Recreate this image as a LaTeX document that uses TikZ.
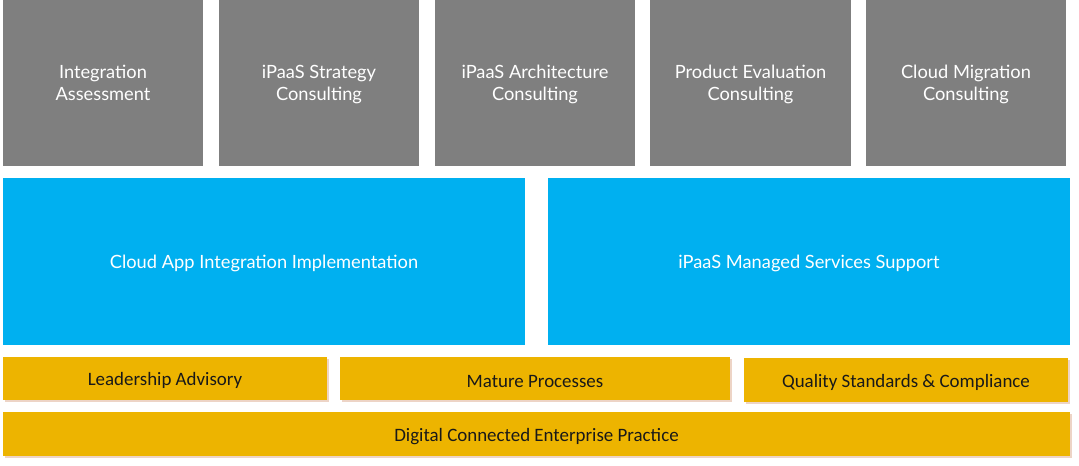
\documentclass[tikz,border=0pt]{standalone}
\usepackage{fontspec}
\setmainfont{Lato}
\newfontfamily\calib{Carlito}
\usetikzlibrary{shadows}
\definecolor{boxgray}{HTML}{7F7F7F}
\definecolor{boxblue}{HTML}{00B0F0}
\definecolor{boxgold}{HTML}{EDB400}
\definecolor{shadowc}{HTML}{E8C9B8}
\newcommand\twoline[2]{\raisebox{-1.6pt}[\height][\depth]{\begin{tabular}{@{}c@{}}#1\\#2\end{tabular}}}
\begin{document}
\begin{tikzpicture}[x=0.75pt,y=-0.75pt,
  box/.style={rectangle,inner sep=0pt,outer sep=0pt,anchor=north west},
  graybox/.style={box,fill=boxgray,text=white,font=\fontsize{13.7}{16.5}\selectfont,minimum width=200*0.75pt,minimum height=166*0.75pt},
  bluebox/.style={box,fill=boxblue,text=white,font=\fontsize{13.7}{16.5}\selectfont,minimum width=522*0.75pt,minimum height=167*0.75pt,
    execute at begin node={\rule{0pt}{13.5pt}}},
  goldbox/.style={box,fill=boxgold,text=black!90,font=\calib\fontsize{14.2}{16}\selectfont,minimum height=43*0.75pt,
    execute at begin node={\rule{0pt}{13.5pt}},
    drop shadow={shadow xshift=1.5pt,shadow yshift=-1.5pt,fill=shadowc,opacity=0.8}}]
\useasboundingbox (0,0) rectangle (1079,465);
\node[graybox] (g1) at (3,0) {\twoline{Integration}{Assessment}};
\node[graybox] (g2) at (219,0) {\twoline{iPaaS Strategy}{Consulting}};
\node[graybox] (g3) at (435,0) {\twoline{iPaaS Architecture}{Consulting}};
\node[graybox,minimum width=201*0.75pt] (g4) at (650,0) {\twoline{Product Evaluation}{Consulting}};
\node[graybox] (g5) at (866,0) {\twoline{Cloud Migration}{Consulting}};
\node[bluebox] (b1) at (3,178) {Cloud App Integration Implementation};
\node[bluebox] (b2) at (548,178) {iPaaS Managed Services Support};
\node[goldbox,minimum width=324*0.75pt] (l1) at (3,357) {Leadership Advisory};
\node[goldbox,minimum width=390*0.75pt] (l2) at (340,357) {Mature Processes};
\node[goldbox,minimum width=324*0.75pt,minimum height=44*0.75pt] (l3) at (744,358) {Quality Standards \& Compliance};
\node[goldbox,minimum width=1067*0.75pt,minimum height=44*0.75pt] (l4) at (3,412) {Digital Connected Enterprise Practice};
\end{tikzpicture}
\end{document}
